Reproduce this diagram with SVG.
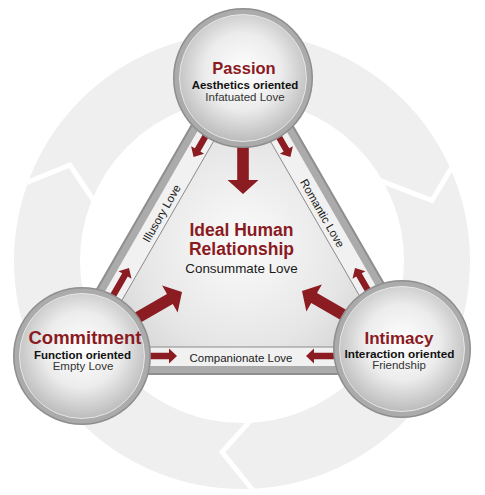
<svg xmlns="http://www.w3.org/2000/svg" width="485" height="495" viewBox="0 0 485 495">
<defs>
  <radialGradient id="nodeFill" cx="50%" cy="45%" r="55%">
    <stop offset="0" stop-color="#ffffff"/>
    <stop offset="0.55" stop-color="#ececec"/>
    <stop offset="1" stop-color="#bcbcbc"/>
  </radialGradient>
  <radialGradient id="innerFill" cx="242" cy="245" r="170" gradientUnits="userSpaceOnUse">
    <stop offset="0" stop-color="#fbfbfb"/>
    <stop offset="0.6" stop-color="#e6e6e6"/>
    <stop offset="1" stop-color="#cdcdcd"/>
  </radialGradient>
  <polygon id="bigArrow" points="-14,-15.5 0,0 -14,15.5 -14,5.8 -60,5.8 -60,-5.8 -14,-5.8"/>
  <polygon id="smallArrow" points="-8,-7.5 0,0 -8,7.5 -8,3.2 -36,3.2 -36,-3.2 -8,-3.2"/>
  <style>
    .arrow { fill: #8b1c22; }
    .gap { fill: none; stroke: #ffffff; stroke-width: 5; stroke-linejoin: miter; }
    .title { font-family: "Liberation Sans", Arial, sans-serif; font-weight: bold; fill: #8b1a1f; text-anchor: middle; }
    .sub { font-family: "Liberation Sans", Arial, sans-serif; font-weight: bold; font-size: 11.5px; fill: #111111; text-anchor: middle; }
    .kind { font-family: "Liberation Sans", Arial, sans-serif; font-size: 11.5px; fill: #333333; text-anchor: middle; }
    .band { font-family: "Liberation Sans", Arial, sans-serif; font-size: 11.5px; fill: #1a1a1a; text-anchor: middle; }
    .rim1 { fill: #8e8e8e; }
    .rim2 { fill: #ababab; }
    .face { fill: url(#nodeFill); stroke: #e6e6e6; stroke-width: 1; }
  </style>
</defs>
<rect width="485" height="495" fill="#ffffff"/>

<g id="cycle-ring">
  <circle cx="242" cy="261" r="195" fill="none" stroke="#efefef" stroke-width="66"/>
  <polyline class="gap" points="20.5,185 70,165 95,202.5"/>
  <polyline class="gap" points="454,163.7 432,200.5 377.6,179.7"/>
  <polyline class="gap" points="256,414.5 222,452 256,494"/>
</g>

<g id="triangle">
  <polygon points="48,374 436,374 242,38" fill="#ababab" stroke="#8e8e8e" stroke-width="2" stroke-linejoin="round"/>
  <polygon points="62,366 422,366 242,54" fill="#f1f1f1"/>
  <polygon points="95,347 389,347 242,92" fill="url(#innerFill)" stroke="#8a8a8a" stroke-width="1"/>
</g>

<g id="connectors">
  <use href="#bigArrow" class="arrow" transform="translate(243,194) rotate(90)"/>
  <use href="#bigArrow" class="arrow" transform="translate(182,292) rotate(-30)"/>
  <use href="#bigArrow" class="arrow" transform="translate(302,291) rotate(210)"/>
  <use href="#smallArrow" class="arrow" transform="translate(193.6,156.9) rotate(120)"/>
  <use href="#smallArrow" class="arrow" transform="translate(129,268) rotate(-60)"/>
  <use href="#smallArrow" class="arrow" transform="translate(290.4,156.9) rotate(60)"/>
  <use href="#smallArrow" class="arrow" transform="translate(355,268) rotate(240)"/>
  <use href="#smallArrow" class="arrow" transform="translate(177,356)"/>
  <use href="#smallArrow" class="arrow" transform="translate(306,356) rotate(180)"/>
  <text class="band" transform="translate(161.7,213.3) rotate(-60)" y="4">Illusory Love</text>
  <text class="band" transform="translate(322.3,213.3) rotate(60)" y="4">Romantic Love</text>
  <text class="band" x="241" y="362">Companionate Love</text>
</g>

<g id="ideal">
  <text class="title" x="241.5" y="235.5" style="font-size:17.5px">Ideal Human</text>
  <text class="title" x="241.5" y="255" style="font-size:17.5px">Relationship</text>
  <text class="kind" x="241.5" y="272.5" style="font-size:13.4px;fill:#1a1a1a">Consummate Love</text>
</g>

<g id="passion">
  <circle class="rim1" cx="243" cy="78" r="70"/>
  <circle class="rim2" cx="243" cy="78" r="68.5"/>
  <circle class="face" cx="243" cy="78" r="63.5"/>
  <text class="title" x="244" y="73.5" style="font-size:16.5px">Passion</text>
  <text class="sub" x="245" y="88.5">Aesthetics oriented</text>
  <text class="kind" x="245" y="100.5">Infatuated Love</text>
</g>

<g id="commitment">
  <circle class="rim1" cx="82" cy="356" r="69"/>
  <circle class="rim2" cx="82" cy="356" r="67.5"/>
  <circle class="face" cx="82" cy="356" r="62.5"/>
  <text class="title" x="85" y="343.5" style="font-size:18.5px">Commitment</text>
  <text class="sub" x="82.5" y="358.5">Function oriented</text>
  <text class="kind" x="83" y="369.5">Empty Love</text>
</g>

<g id="intimacy">
  <circle class="rim1" cx="402" cy="349" r="69"/>
  <circle class="rim2" cx="402" cy="349" r="67.5"/>
  <circle class="face" cx="402" cy="349" r="62.5"/>
  <text class="title" x="399" y="344" style="font-size:17px">Intimacy</text>
  <text class="sub" x="399.5" y="357.5" style="font-size:11.8px">Interaction oriented</text>
  <text class="kind" x="399" y="369">Friendship</text>
</g>
</svg>
